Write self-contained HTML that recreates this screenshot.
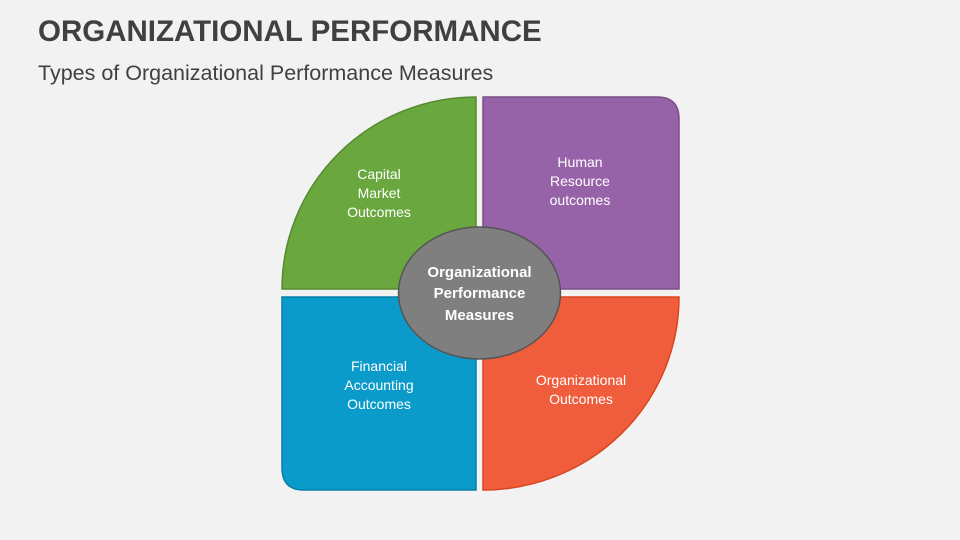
<!DOCTYPE html>
<html><head><meta charset="utf-8"><style>
body{margin:0;width:960px;height:540px;background:#f2f2f2;overflow:hidden;font-family:"Liberation Sans",sans-serif}
.t{position:absolute;left:38px;top:15px;font-size:29.5px;font-weight:bold;color:#404040}
.s{position:absolute;left:38px;top:61px;font-size:21.5px;color:#404040}
svg{position:absolute;left:0;top:0}
</style></head><body>
<div class="t">ORGANIZATIONAL PERFORMANCE</div>
<div class="s">Types of Organizational Performance Measures</div>
<svg width="960" height="540" font-family="Liberation Sans, sans-serif" fill="#fff">
<path d="M476,97 L476,289 L282,289 A194,192 0 0 1 476,97 Z" fill="#6aa83f" stroke="#558a30" stroke-width="1.5"/>
<path d="M483,97 L657,97 Q679,97 679,119 L679,289 L483,289 Z" fill="#9763a8" stroke="#7a4f88" stroke-width="1.5"/>
<path d="M282,297 L476,297 L476,490 L304,490 Q282,490 282,468 Z" fill="#0a9bca" stroke="#087ea6" stroke-width="1.5"/>
<path d="M483,297 L679,297 A196,193 0 0 1 483,490 Z" fill="#f05d3c" stroke="#d9461f" stroke-width="1.5"/>
<ellipse cx="479.5" cy="293" rx="81" ry="66" fill="#7f7f7f" stroke="#555" stroke-width="1.5"/>
<g font-size="14" text-anchor="middle">
<text x="379" y="179">Capital</text><text x="379" y="198">Market</text><text x="379" y="217">Outcomes</text>
<text x="580" y="167">Human</text><text x="580" y="186">Resource</text><text x="580" y="205">outcomes</text>
<text x="379" y="371">Financial</text><text x="379" y="390">Accounting</text><text x="379" y="409">Outcomes</text>
<text x="581" y="385">Organizational</text><text x="581" y="404">Outcomes</text>
</g>
<g font-size="15" font-weight="bold" text-anchor="middle">
<text x="479.5" y="277">Organizational</text><text x="479.5" y="298">Performance</text><text x="479.5" y="320">Measures</text>
</g>
</svg>
</body></html>
